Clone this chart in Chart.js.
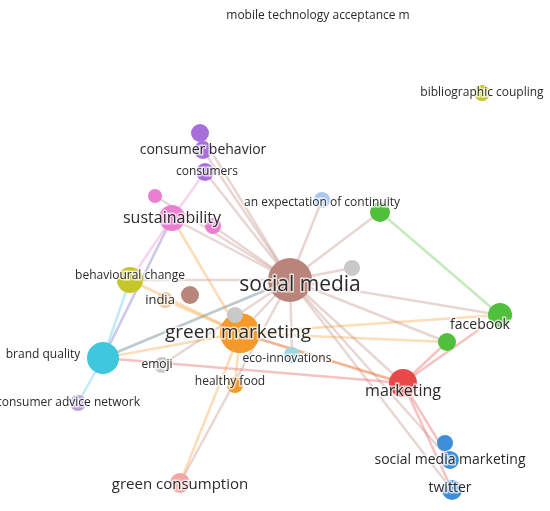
<!DOCTYPE html>
<html><head><meta charset="utf-8">
<script src="https://cdn.jsdelivr.net/npm/chart.js@4.4.1/dist/chart.umd.min.js"></script>
<style>html,body{margin:0;padding:0;background:#fff}#c{width:550px;height:511px}</style>
</head><body><div id="c"><canvas id="cv" width="550" height="511"></canvas></div>
<script>
const nodeLabels=["social media","green marketing","sustainability","consumer behavior","consumers","","marketing","facebook","","twitter","social media marketing","","green consumption","brand quality","consumer advice network","emoji","healthy food","eco-innovations","india","behavioural change","an expectation of continuity","","mobile technology acceptance m","bibliographic coupling","","","","",""];
const nodeX=[290,240,172,203,205,200,403,500,447,452,450,445,180,103,78,162,235,292,165,130,322,380,318,482,352,190,155,213,235];
const nodeY=[280,333,218,150,172,133,383,315,342,490,460,443,483,358,403,365,385,355,300,280,200,212,12,93,268,295,196,226,315];
const nodeSize=[22,20,13,9,9,9,14,12,9,10,9,8,10,16,8,8,8,8,8,13,8,10,7,8,8,9,7,8,8];
const nodeCluster=[0,1,2,3,3,3,4,5,5,6,6,6,7,8,9,10,1,11,12,13,14,5,2,13,10,0,2,2,10];
const clusterColor=["#b9857b","#f39a2b","#ea7fd0","#a86fdc","#e84848","#4fbf3c","#3d8fda","#f4a5a5","#3fc7dd","#b9a1dc","#c9c9c9","#9fd8e0","#f1c59b","#c5c62a","#a9c9f2"];
const edges=[[0,1],[0,2],[0,3],[0,4],[0,6],[0,7],[0,8],[0,10],[0,12],[0,13],[0,15],[0,17],[0,19],[0,20],[0,21],[0,24],[0,5],[1,2],[1,13],[1,12],[1,16],[1,6],[1,7],[1,19],[1,18],[2,13],[2,19],[2,4],[6,7],[6,9],[6,10],[6,8],[6,13],[7,21],[13,14],[13,19],[13,2],[13,0],[0,27],[0,26],[6,1],[0,9],[1,8]];
const labelSize=[21,19,16,14,12,0,16,14,0,14,14,0,15,12,12,12,12,12,13,12,12,0,12,12,0,0,0,0,0];
const labelDX=[10,-2,0,0,2,0,0,-20,0,-2,0,0,0,-60,-10,-5,-5,-5,-5,0,0,0,0,0,0,0,0,0,0];
const labelDY=[5,0,0,0,0,0,8,10,0,-2,0,0,2,-3,0,0,-3,4,0,-4,3,0,4,0,0,0,0,0,0];

const ds=[];
edges.forEach(([a,b])=>{ds.push({type:'line',data:[{x:nodeX[a],y:nodeY[a]},{x:nodeX[b],y:nodeY[b]}],borderColor:clusterColor[nodeCluster[a]]+'55',borderWidth:2.5,pointRadius:0,tension:0,order:2});});
ds.push({type:'bubble',order:1,data:nodeX.map((x,i)=>({x:x,y:nodeY[i],r:nodeSize[i]})),backgroundColor:nodeCluster.map(c=>clusterColor[c]),borderWidth:0});
const labelPlugin={id:'lbl',afterDatasetsDraw(ch){const c=ch.ctx,xs=ch.scales.x,ys=ch.scales.y;c.save();c.textAlign='center';c.textBaseline='middle';
nodeLabels.forEach((t,i)=>{if(!t)return;c.font=labelSize[i]+'px "Open Sans"';const px=xs.getPixelForValue(nodeX[i]+labelDX[i]),py=ys.getPixelForValue(nodeY[i]+labelDY[i]);c.lineWidth=3;c.strokeStyle='rgba(255,255,255,0.7)';c.strokeText(t,px,py);c.fillStyle='#2a2a2a';c.fillText(t,px,py);});c.restore();}};
new Chart(document.getElementById('cv'),{data:{datasets:ds},plugins:[labelPlugin],options:{responsive:false,animation:false,clip:false,layout:{padding:0},plugins:{legend:{display:false},tooltip:{enabled:false}},scales:{x:{type:'linear',min:22,max:528,display:false},y:{type:'linear',min:22,max:489,reverse:true,display:false}}}});
</script></body></html>
